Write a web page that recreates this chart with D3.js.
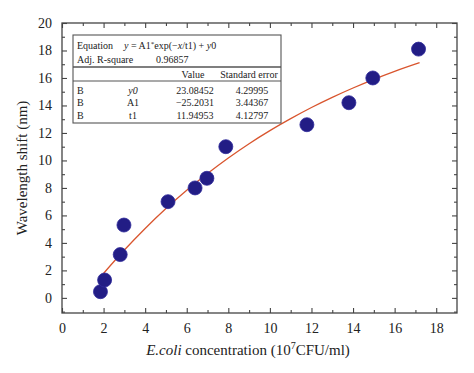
<!DOCTYPE html>
<html>
<head>
<meta charset="utf-8">
<script src="https://cdn.jsdelivr.net/npm/d3@7"></script>
<style>
body { margin: 0; background: #fff; }
text { font-family: "Liberation Serif", "DejaVu Serif", serif; fill: #222; }
</style>
</head>
<body>
<svg width="474" height="373"></svg>
<script>
// measured points
var concentration = [1.85, 2.05, 2.8, 2.98, 5.1, 6.4, 6.97, 7.88, 11.78, 13.8, 14.95, 17.15];
var shift = [0.45, 1.3, 3.15, 5.3, 7.0, 8.0, 8.7, 11.0, 12.6, 14.2, 16.0, 18.1];

// fitted curve
var fitX = [1.98, 3, 4, 5, 6, 7, 8, 9, 10, 11, 12, 13, 14, 15, 16, 17.2];
var fitY = [1.75, 3.48, 5.05, 6.5, 7.83, 9.05, 10.18, 11.22, 12.17, 13.04, 13.85, 14.59, 15.27, 15.9, 16.48, 17.11];

var xTicks = [0, 2, 4, 6, 8, 10, 12, 14, 16, 18];
var yTicks = [0, 2, 4, 6, 8, 10, 12, 14, 16, 18, 20];

// fit table
var tableRows = [["B", "y0", "23.08452", "4.29995"],
                 ["B", "A1", "\u221225.2031", "3.44367"],
                 ["B", "t1", "11.94953", "4.12797"]];

var margin = {left: 62, right: 17, top: 23, bottom: 60};
var width = 474 - margin.left - margin.right;
var height = 373 - margin.top - margin.bottom;

var svg = d3.select("svg");
var g = svg.append("g").attr("transform", "translate(" + margin.left + "," + margin.top + ")");

var x = d3.scaleLinear().domain([0, 19]).range([0, width]);
var y = d3.scaleLinear().domain([-1.1, 20]).range([height, 0]);

var axisColor = "#444";
var minorX = d3.range(1, 19, 2);
var minorY = d3.range(-1, 20, 2);

function styleAxis(sel) {
  sel.select(".domain").remove();
  sel.selectAll(".tick line").attr("stroke", axisColor).attr("stroke-width", 1.1);
  sel.selectAll("text").style("font-size", "14px").style("font-family", "Liberation Serif, serif").attr("fill", "#222");
}

// bottom
g.append("g").attr("transform", "translate(0," + height + ")")
  .call(d3.axisBottom(x).tickValues(xTicks).tickSize(-5).tickPadding(10).tickFormat(d3.format("d")))
  .call(styleAxis);
g.append("g").attr("transform", "translate(0," + height + ")")
  .call(d3.axisBottom(x).tickValues(minorX).tickSize(-3).tickFormat(""))
  .call(styleAxis);
// top
g.append("g").call(d3.axisTop(x).tickValues(xTicks).tickSize(-5).tickFormat("")).call(styleAxis);
g.append("g").call(d3.axisTop(x).tickValues(minorX).tickSize(-3).tickFormat("")).call(styleAxis);
// left
g.append("g")
  .call(d3.axisLeft(y).tickValues(yTicks).tickSize(-5).tickPadding(10).tickFormat(d3.format("d")))
  .call(styleAxis);
g.append("g").call(d3.axisLeft(y).tickValues(minorY).tickSize(-3).tickFormat("")).call(styleAxis);
// right
g.append("g").attr("transform", "translate(" + width + ",0)")
  .call(d3.axisRight(y).tickValues(yTicks).tickSize(-5).tickFormat("")).call(styleAxis);
g.append("g").attr("transform", "translate(" + width + ",0)")
  .call(d3.axisRight(y).tickValues(minorY).tickSize(-3).tickFormat("")).call(styleAxis);

g.append("rect").attr("width", width).attr("height", height)
  .attr("fill", "none").attr("stroke", axisColor).attr("stroke-width", 1.3);

// fit line
var fitData = fitX.map(function(d, i) { return [d, fitY[i]]; });
g.append("path").datum(fitData)
  .attr("fill", "none").attr("stroke", "#d9552e").attr("stroke-width", 1.3)
  .attr("d", d3.line().x(function(d) { return x(d[0]); }).y(function(d) { return y(d[1]); }).curve(d3.curveMonotoneX));

// points
g.selectAll("circle.pt").data(concentration).enter().append("circle")
  .attr("class", "pt")
  .attr("cx", function(d) { return x(d); })
  .attr("cy", function(d, i) { return y(shift[i]); })
  .attr("r", 7)
  .attr("fill", "#221d85")
  .attr("stroke", "#2e2a9a").attr("stroke-width", 0.8);

// table box
var tb = svg.append("g").attr("transform", "translate(73,35)");
var tw = 208, th = 88;
tb.append("rect").attr("width", tw).attr("height", th).attr("fill", "#fff")
  .attr("stroke", "#555").attr("stroke-width", 1.1);
tb.append("line").attr("x1", 0).attr("x2", tw).attr("y1", 32).attr("y2", 32).attr("stroke", "#555").attr("stroke-width", 1.6);
tb.append("line").attr("x1", 0).attr("x2", tw).attr("y1", 46).attr("y2", 46).attr("stroke", "#555").attr("stroke-width", 1.1);

var fs = "10px";
var eq = tb.append("text").attr("x", 4).attr("y", 13.5).style("font-size", fs);
eq.append("tspan").text("Equation");
var eq2 = tb.append("text").attr("x", 51).attr("y", 13.5).style("font-size", fs);
eq2.append("tspan").style("font-style", "italic").text("y");
eq2.append("tspan").text(" = A1");
eq2.append("tspan").attr("dy", -3).style("font-size", "7px").text("*");
eq2.append("tspan").attr("dy", 3).text("exp(\u2212");
eq2.append("tspan").style("font-style", "italic").text("x");
eq2.append("tspan").text("/t1) + ");
eq2.append("tspan").style("font-style", "italic").text("y");
eq2.append("tspan").text("0");

tb.append("text").attr("x", 4).attr("y", 27.5).style("font-size", fs).text("Adj. R-square");
tb.append("text").attr("x", 83).attr("y", 27.5).style("font-size", fs).text("0.96857");

tb.append("text").attr("x", 120).attr("y", 42.5).attr("text-anchor", "middle").style("font-size", fs).text("Value");
tb.append("text").attr("x", 176).attr("y", 42.5).attr("text-anchor", "middle").style("font-size", fs).text("Standard error");

var rows = tb.selectAll("g.row").data(tableRows).enter().append("g")
  .attr("class", "row")
  .attr("transform", function(d, i) { return "translate(0," + (58.5 + i * 12.5) + ")"; });
rows.append("text").attr("x", 4).style("font-size", fs).text(function(d) { return d[0]; });
rows.append("text").attr("x", 60).attr("text-anchor", "middle").style("font-size", fs)
  .style("font-style", function(d) { return d[1] === "y0" ? "italic" : "normal"; })
  .text(function(d) { return d[1]; });
rows.append("text").attr("x", 122).attr("text-anchor", "middle").style("font-size", fs).text(function(d) { return d[2]; });
rows.append("text").attr("x", 179).attr("text-anchor", "middle").style("font-size", fs).text(function(d) { return d[3]; });

// axis titles
svg.append("text")
  .attr("transform", "translate(27," + (margin.top + height / 2) + ") rotate(-90)")
  .attr("text-anchor", "middle").style("font-size", "15px")
  .text("Wavelength shift (nm)");

var xt = svg.append("text").attr("x", 248).attr("y", 355).attr("text-anchor", "middle").style("font-size", "15px");
xt.append("tspan").style("font-style", "italic").text("E.coli");
xt.append("tspan").text(" concentration (10");
xt.append("tspan").attr("dy", -6).style("font-size", "10px").text("7");
xt.append("tspan").attr("dy", 6).text("CFU/ml)");
</script>
</body>
</html>
